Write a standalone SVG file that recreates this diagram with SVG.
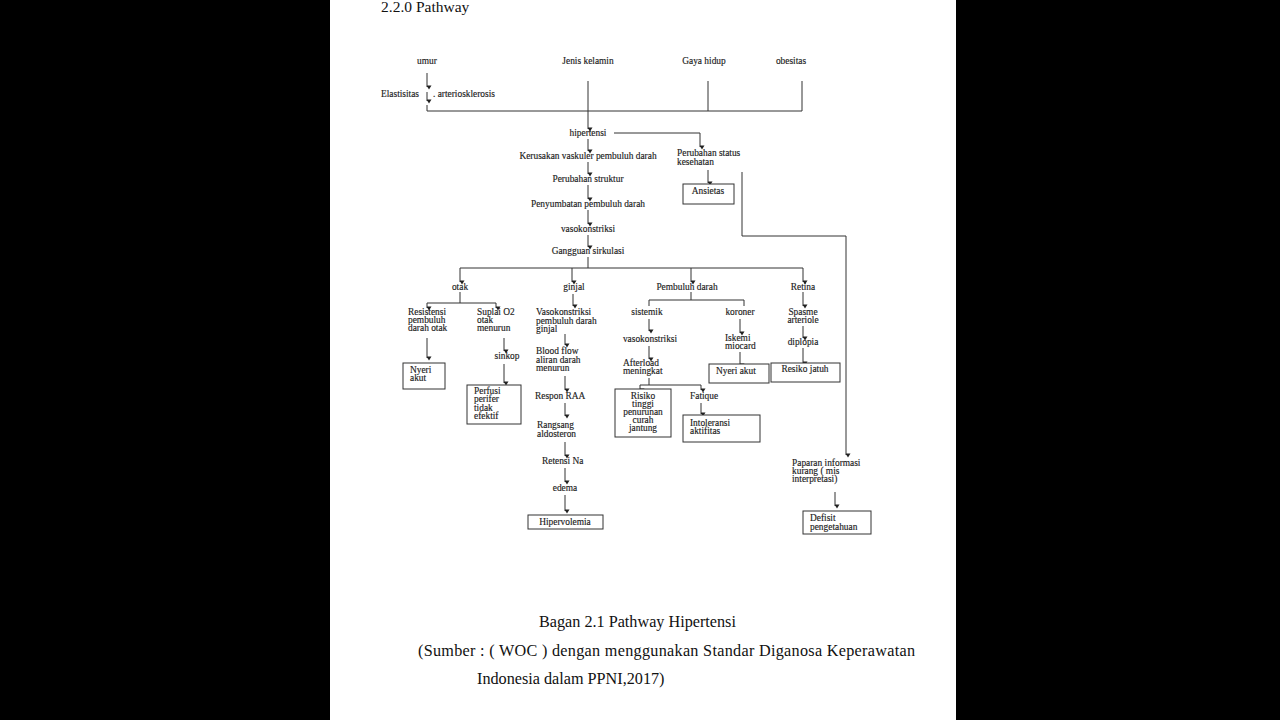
<svg xmlns="http://www.w3.org/2000/svg" width="1280" height="720" viewBox="0 0 1280 720">
<style>
text{font-family:"Liberation Serif","DejaVu Serif",serif;fill:#222}
.t{font-size:9.4px;stroke:#222;stroke-width:0.15}
.m{text-anchor:middle}
.cap{font-size:16.2px;fill:#111}
.ln{fill:none;stroke:#333;stroke-width:1}
.a{fill:none;stroke:#333;stroke-width:1;marker-end:url(#ah)}
.bx{fill:#fff;stroke:#333;stroke-width:1}
</style>
<defs>
<marker id="ah" markerWidth="5" markerHeight="5" refX="2.5" refY="4.5" orient="auto-start-reverse" markerUnits="userSpaceOnUse" viewBox="0 0 5 5">
<path d="M0,1 L5,1 L2.5,5 Z" fill="#222" transform="rotate(-90 2.5 2.5)"/>
</marker>
</defs>
<rect x="0" y="0" width="1280" height="720" fill="#000"/>
<rect x="330" y="0" width="626" height="720" fill="#fff"/>
<text x="381" y="12" style="font-size:15.5px;fill:#111">2.2.0 Pathway</text>

<g id="connectors">
<path class="a" d="M427,73 V87"/>
<path class="a" d="M427,92 V101"/>
<path class="ln" d="M427,105 V111 H802 V81"/>
<path class="ln" d="M708,81 V111"/>
<path class="a" d="M588,81 V129"/>
<path class="ln" d="M614,133 H700"/>
<path class="a" d="M700,133 V147"/>
<path class="a" d="M708,170 V183"/>
<path class="ln" d="M742,172 V236 H846"/>
<path class="a" d="M846,236 V455"/>
<path class="a" d="M588,139 V151"/>
<path class="a" d="M588,162 V174"/>
<path class="a" d="M588,185 V199"/>
<path class="a" d="M588,210 V224"/>
<path class="a" d="M588,235 V247"/>
<path class="ln" d="M588,257 V268"/>
<path class="ln" d="M460,268 H803"/>
<path class="a" d="M460,268 V282"/>
<path class="a" d="M572,268 V282"/>
<path class="a" d="M691,268 V282"/>
<path class="a" d="M803,268 V282"/>
<path class="ln" d="M460,292 V303"/>
<path class="ln" d="M427,303 H496"/>
<path class="a" d="M427,303 V308"/>
<path class="a" d="M496,303 V308"/>
<path class="a" d="M427,338 V358"/>
<path class="a" d="M504,338 V351"/>
<path class="a" d="M504,364 V383"/>
<path class="a" d="M573,294 V306"/>
<path class="a" d="M565,334 V345"/>
<path class="a" d="M565,376 V390"/>
<path class="a" d="M565,403 V416"/>
<path class="a" d="M565,442 V456"/>
<path class="a" d="M565,468 V482"/>
<path class="a" d="M565,495 V511"/>
<path class="ln" d="M691,292 V300"/>
<path class="ln" d="M649,306 V300 H744 V306"/>
<path class="a" d="M649,319 V331"/>
<path class="a" d="M649,346 V359"/>
<path class="ln" d="M649,378 V385"/>
<path class="ln" d="M640,385 H701"/>
<path class="a" d="M640,385 V390"/>
<path class="a" d="M701,385 V390"/>
<path class="a" d="M701,403 V414"/>
<path class="a" d="M740,319 V333"/>
<path class="a" d="M740,352 V365"/>
<path class="a" d="M803,292 V306"/>
<path class="a" d="M803,326 V338"/>
<path class="a" d="M803,348 V363"/>
<path class="a" d="M835,492 V506"/>
</g>

<g id="n-umur"><text class="t m" x="427" y="64">umur</text></g>
<g id="n-jenis"><text class="t m" x="588" y="64">Jenis kelamin</text></g>
<g id="n-gaya"><text class="t m" x="704" y="64">Gaya hidup</text></g>
<g id="n-obesitas"><text class="t m" x="791" y="64">obesitas</text></g>
<g id="n-elastisitas"><text class="t" x="381" y="97">Elastisitas</text><text class="t" x="433" y="97">. arteriosklerosis</text></g>
<g id="n-hipertensi"><text class="t m" x="588" y="136">hipertensi</text></g>
<g id="n-perubahan-status"><text class="t" x="677" y="156">Perubahan status</text><text class="t" x="677" y="165">kesehatan</text></g>
<g id="n-ansietas"><rect class="bx" x="683" y="184" width="51" height="20"/><text class="t m" x="708" y="194">Ansietas</text></g>
<g id="n-kerusakan"><text class="t m" x="588" y="159">Kerusakan vaskuler pembuluh darah</text></g>
<g id="n-struktur"><text class="t m" x="588" y="182">Perubahan struktur</text></g>
<g id="n-penyumbatan"><text class="t m" x="588" y="207">Penyumbatan pembuluh darah</text></g>
<g id="n-vasokonstriksi"><text class="t m" x="588" y="232">vasokonstriksi</text></g>
<g id="n-gangguan"><text class="t m" x="588" y="254">Gangguan sirkulasi</text></g>

<g id="n-otak"><text class="t m" x="460" y="290">otak</text></g>
<g id="n-ginjal"><text class="t m" x="574" y="290">ginjal</text></g>
<g id="n-pembuluh"><text class="t m" x="687" y="290">Pembuluh darah</text></g>
<g id="n-retina"><text class="t m" x="803" y="290">Retina</text></g>

<g id="n-resistensi"><text class="t" x="408" y="315">Resistensi</text><text class="t" x="408" y="323">pembuluh</text><text class="t" x="408" y="331">darah otak</text></g>
<g id="n-suplai"><text class="t" x="477" y="315">Suplai O2</text><text class="t" x="477" y="323">otak</text><text class="t" x="477" y="331">menurun</text></g>
<g id="n-nyeri1"><rect class="bx" x="403" y="363" width="42" height="26"/><text class="t" x="410" y="373">Nyeri</text><text class="t" x="410" y="381">akut</text></g>
<g id="n-sinkop"><text class="t m" x="507" y="359">sinkop</text></g>
<g id="n-perfusi"><rect class="bx" x="467" y="385" width="54" height="39"/><text class="t" x="474" y="394">Perfusi</text><text class="t" x="474" y="402">perifer</text><text class="t" x="474" y="411">tidak</text><text class="t" x="474" y="419">efektif</text></g>

<g id="n-vaso-ginjal"><text class="t" x="536" y="315">Vasokonstriksi</text><text class="t" x="536" y="324">pembuluh darah</text><text class="t" x="536" y="332">ginjal</text></g>
<g id="n-blood"><text class="t" x="536" y="354">Blood flow</text><text class="t" x="536" y="363">aliran darah</text><text class="t" x="536" y="371">menurun</text></g>
<g id="n-respon"><text class="t" x="535" y="399">Respon RAA</text></g>
<g id="n-rangsang"><text class="t" x="537" y="428">Rangsang</text><text class="t" x="537" y="437">aldosteron</text></g>
<g id="n-retensi"><text class="t" x="542" y="464">Retensi Na</text></g>
<g id="n-edema"><text class="t m" x="565" y="491">edema</text></g>
<g id="n-hipervolemia"><rect class="bx" x="528" y="515" width="75" height="14"/><text class="t m" x="565" y="525">Hipervolemia</text></g>

<g id="n-sistemik"><text class="t m" x="647" y="315">sistemik</text></g>
<g id="n-koroner"><text class="t m" x="740" y="315">koroner</text></g>
<g id="n-vaso2"><text class="t m" x="650" y="342">vasokonstriksi</text></g>
<g id="n-afterload"><text class="t" x="623" y="366">Afterload</text><text class="t" x="623" y="374">meningkat</text></g>
<g id="n-risiko"><rect class="bx" x="615" y="389" width="56" height="48"/><text class="t m" x="643" y="399">Risiko</text><text class="t m" x="643" y="407">tinggi</text><text class="t m" x="643" y="415">penurunan</text><text class="t m" x="643" y="423">curah</text><text class="t m" x="643" y="431">jantung</text></g>
<g id="n-fatique"><text class="t" x="690" y="399">Fatique</text></g>
<g id="n-intoleransi"><rect class="bx" x="683" y="415" width="77" height="27"/><text class="t" x="690" y="426">Intoleransi</text><text class="t" x="690" y="434">aktifitas</text></g>
<g id="n-iskemi"><text class="t" x="725" y="341">Iskemi</text><text class="t" x="725" y="349">miocard</text></g>
<g id="n-nyeri2"><rect class="bx" x="709" y="364" width="60" height="19"/><text class="t" x="716" y="374">Nyeri akut</text></g>

<g id="n-spasme"><text class="t m" x="803" y="315">Spasme</text><text class="t m" x="803" y="323">arteriole</text></g>
<g id="n-diplopia"><text class="t m" x="803" y="345">diplopia</text></g>
<g id="n-resiko-jatuh"><rect class="bx" x="771" y="363" width="69" height="19"/><text class="t m" x="805" y="372">Resiko jatuh</text></g>

<g id="n-paparan"><text class="t" x="792" y="466">Paparan informasi</text><text class="t" x="792" y="474">kurang ( mis</text><text class="t" x="792" y="482">interpretasi)</text></g>
<g id="n-defisit"><rect class="bx" x="803" y="511" width="68" height="23"/><text class="t" x="810" y="521">Defisit</text><text class="t" x="810" y="530">pengetahuan</text></g>

<text class="cap" x="539" y="627">Bagan 2.1 Pathway Hipertensi</text>
<text class="cap" x="418" y="656" textLength="497" lengthAdjust="spacing">(Sumber : ( WOC ) dengan menggunakan Standar Diganosa Keperawatan</text>
<text class="cap" x="477" y="684">Indonesia dalam PPNI,2017)</text>
</svg>
